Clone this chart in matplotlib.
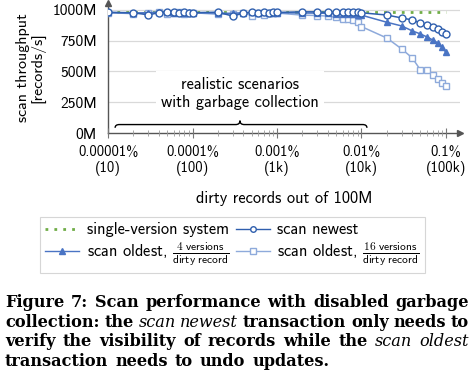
import matplotlib
matplotlib.use('Agg')
import matplotlib.pyplot as plt
from matplotlib.path import Path
from matplotlib.patches import PathPatch
from matplotlib.lines import Line2D

plt.rcParams['mathtext.fontset'] = 'cm'
SANS = 'cmss10'

# dirty records (out of 100M)
dirty = [10, 20, 30, 40, 50, 60, 70, 80, 90,
         100, 200, 300, 400, 500, 600, 700, 800, 900,
         1000, 2000, 3000, 4000, 5000, 6000, 7000, 8000, 9000,
         10000, 20000, 30000, 40000, 50000, 60000, 70000, 80000, 90000,
         100000]

# throughput in M records/s
single = [985] * len(dirty)
newest = [980, 978, 960, 978, 982, 980, 978, 980, 975,
          978, 982, 950, 975, 980, 978, 982, 978, 980,
          980, 985, 985, 980, 982, 985, 983, 982, 980,
          977, 959, 935, 919, 894, 878, 862, 846, 821,
          803]
oldest4 = [980, 975, 978, 982, 980, 978, 980, 978, 980,
           978, 975, 972, 978, 980, 978, 980, 978, 975,
           978, 975, 975, 972, 970, 968, 965, 965, 962,
           958, 900, 870, 830, 805, 780, 756, 732, 700,
           655]
oldest16 = [978, 970, 975, 982, 965, 975, 980, 965, 975,
            978, 965, 970, 975, 955, 975, 960, 975, 978,
            975, 958, 955, 950, 940, 930, 925, 915, 905,
            865, 772, 683, 610, 512, 510, 470, 439, 407,
            380]

xticks = [10, 100, 1000, 10000, 100000]
xticklabels = ['0.00001%\n(10)', '0.0001%\n(100)', '0.001%\n(1k)',
               '0.01%\n(10k)', '0.1%\n(100k)']
yticks = [0, 250, 500, 750, 1000]
yticklabels = ['0M', '250M', '500M', '750M', '1000M']

c_single = '#70ad47'
c_newest = '#2f5fae'
c_old4 = '#4a74c4'
c_old16 = '#8eaadb'

fig = plt.figure(figsize=(4.74, 3.70), dpi=100)
ax = fig.add_axes([0.228, 0.6405, 0.742, 0.3515])

ax.set_xscale('log')
ax.set_xlim(10, 146000)
ax.set_ylim(0, 1057)

for y in yticks[1:]:
    ax.axhline(y, color='#d9d9d9', lw=0.9, zorder=0)

ax.plot(dirty, single, ls=(0, (1, 2.2)), color=c_single, lw=2.0, zorder=2)
ax.plot(dirty, oldest16, '-s', color=c_old16, lw=1.1, ms=5,
        mfc='white', mec=c_old16, mew=1.0, zorder=3)
ax.plot(dirty, oldest4, '-^', color=c_old4, lw=1.1, ms=5,
        mfc=c_old4, mec=c_old4, zorder=4)
ax.plot(dirty, newest, '-o', color=c_newest, lw=1.1, ms=5,
        mfc='white', mec=c_newest, mew=1.0, zorder=5)

for s in ['top', 'right', 'left', 'bottom']:
    ax.spines[s].set_visible(False)
ax.plot([0, 1.0], [0, 0], color='#555555', lw=1.0, transform=ax.transAxes,
        clip_on=False, zorder=1)
ax.plot([0, 0], [0, 1.0], color='#555555', lw=1.0, transform=ax.transAxes,
        clip_on=False, zorder=1)
ax.plot(1.0, 0, '>', color='#555555', ms=4, transform=ax.transAxes, clip_on=False)
ax.plot(0, 1.0, '^', color='#555555', ms=4, transform=ax.transAxes, clip_on=False)

ax.set_xticks(xticks)
ax.set_xticklabels(xticklabels, fontsize=10.5, family=SANS, linespacing=1.2)
ax.tick_params(axis='x', which='major', direction='inout', length=7,
               color='#777777', width=0.8, pad=5)
ax.tick_params(axis='x', which='minor', direction='inout', length=4,
               color='#999999', width=0.6)
ax.set_yticks(yticks)
ax.set_yticklabels(yticklabels, fontsize=11.2, family=SANS)
ax.tick_params(axis='y', length=0, pad=8)

ax.set_xlabel('dirty records out of 100M', fontsize=11.8, family=SANS, labelpad=11)
ax.set_ylabel('scan throughput\n[records/s]', fontsize=11.5, family=SANS,
              labelpad=5, linespacing=1.05)

# annotation with brace
ax.text(0.375, 0.305, 'realistic scenarios\nwith garbage collection',
        transform=ax.transAxes, ha='center', va='center', fontsize=11.8,
        family=SANS, linespacing=1.3, zorder=6,
        bbox=dict(facecolor='white', edgecolor='none', pad=4))

x0, x1, xm = 0.02, 0.736, 0.375
yb, yt = 0.04, 0.095
r = 0.012
verts = [(x0, yb), (x0, yb + 0.025), (x0 + r, yb + 0.025),
         (xm - r, yb + 0.025), (xm, yb + 0.025), (xm, yt),
         (xm, yb + 0.025), (xm + r, yb + 0.025),
         (x1 - r, yb + 0.025), (x1, yb + 0.025), (x1, yb)]
codes = [Path.MOVETO, Path.CURVE3, Path.CURVE3,
         Path.LINETO, Path.CURVE3, Path.CURVE3,
         Path.CURVE3, Path.CURVE3,
         Path.LINETO, Path.CURVE3, Path.CURVE3]
ax.add_patch(PathPatch(Path(verts, codes), fill=False, lw=1.0, color='black',
                       transform=ax.transAxes, clip_on=False, zorder=6))

# legend
handles = [
    Line2D([], [], ls=(0, (1, 2.2)), color=c_single, lw=2.0),
    Line2D([], [], ls='-', marker='^', color=c_old4, ms=4, lw=1.0),
    Line2D([], [], ls='-', marker='o', color=c_newest, ms=4, lw=1.0, mfc='white'),
    Line2D([], [], ls='-', marker='s', color=c_old16, ms=4, lw=1.0, mfc='white'),
]
labels = [
    'single-version system',
    r'scan oldest, $\frac{\mathsf{4\ versions}}{\mathsf{dirty\ record}}$',
    'scan newest',
    r'scan oldest, $\frac{\mathsf{16\ versions}}{\mathsf{dirty\ record}}$',
]
leg = fig.legend(handles, labels, ncol=2, loc='center',
                 bbox_to_anchor=(0.49, 0.337), frameon=True, fancybox=False,
                 prop={'family': SANS, 'size': 11.8}, handlelength=2.1,
                 handletextpad=0.45, columnspacing=0.4, borderpad=0.3,
                 labelspacing=0.2, edgecolor='#cccccc')
leg.get_frame().set_linewidth(0.8)

# caption, justified lines
renderer = fig.canvas.get_renderer()
W = fig.get_figwidth() * fig.dpi
H = fig.get_figheight() * fig.dpi
CAP = 11.6
bold = dict(family='DejaVu Serif', weight='bold', fontsize=CAP)
ital = dict(family='DejaVu Serif', style='italic', fontsize=CAP)


def caption_line(parts, ypix, left=5, right=469, justify=True):
    words = []
    for txt, style in parts:
        for w in txt.split():
            words.append((w, style))
    objs = []
    widths = []
    for w, style in words:
        t = fig.text(0, 1 - ypix / H, w, va='baseline', ha='left', **style)
        widths.append(t.get_window_extent(renderer).width)
        objs.append(t)
    if justify:
        gap = (right - left - sum(widths)) / (len(words) - 1)
    else:
        gap = 7
    x = left
    for t, w in zip(objs, widths):
        t.set_x(x / W)
        x += w + gap


caption_line([('Figure 7: Scan performance with disabled garbage', bold)], 307)
caption_line([('collection: the', bold), ('scan newest', ital),
              ('transaction only needs to', bold)], 327)
caption_line([('verify the visibility of records while the', bold),
              ('scan oldest', ital)], 346)
caption_line([('transaction needs to undo updates.', bold)], 366, justify=False)

fig.savefig('out.png', dpi=100)
